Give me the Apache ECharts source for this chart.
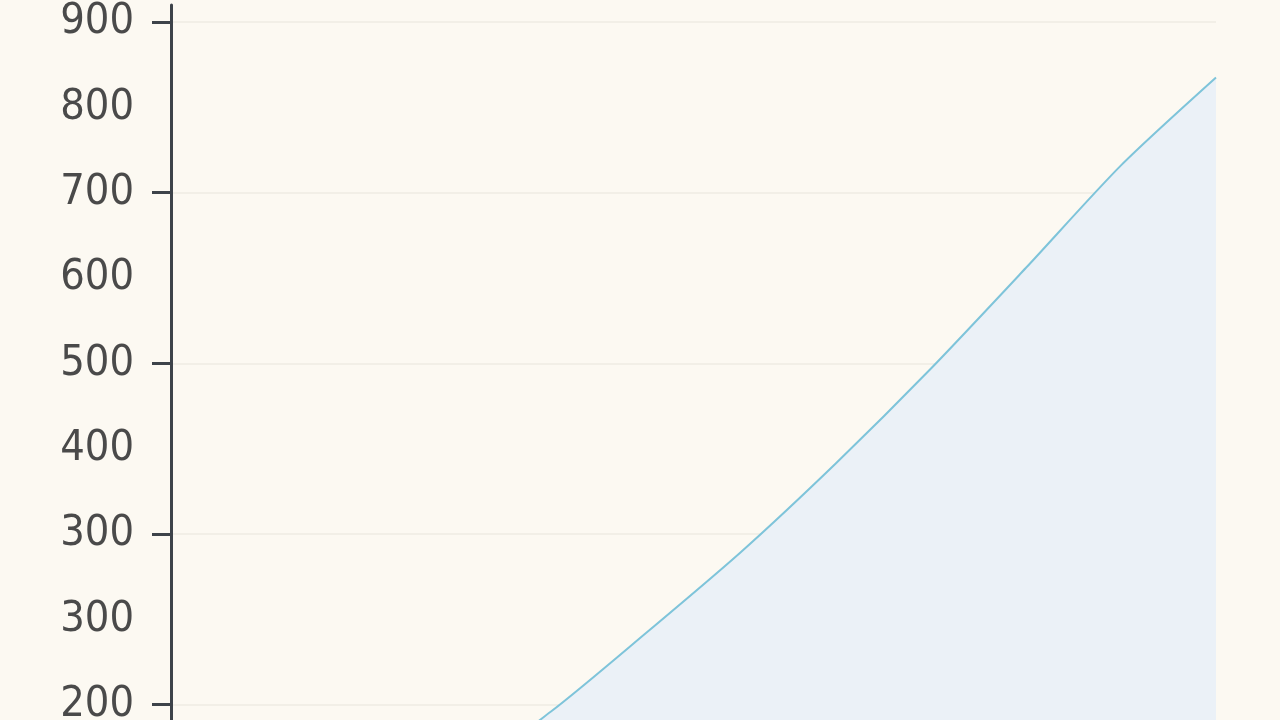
<!DOCTYPE html>
<html>
<head>
    <meta charset="utf-8">
    <title>area line</title>
    <style>
        html, body {
            margin: 0;
            padding: 0;
            background-color: #fcf9f2;
        }
        #chart {
            width: 1280px;
            height: 720px;
        }
    </style>
</head>
<body>
    <div id="chart"></div>
    <script src="https://cdn.jsdelivr.net/npm/echarts@6/dist/echarts.min.js"></script>
    <script>
        // x positions (axis hidden in the crop)
        var xCategories = ['1', '2', '3', '4', '5', '6', '7', '8', '9', '10', '11', '12'];
        // series values
        var seriesValues = [0, 0, 0, 15, 92, 184, 279, 383, 494, 612, 732, 835];
        // tick positions and the label text printed at each one (as shown)
        var yLabelValues = [100, 200, 300, 400, 500, 600, 700, 800, 900];
        var yLabelTexts = ['200', '300', '300', '400', '500', '600', '700', '800', '900'];
        var yTickValues = [100, 300, 500, 700, 900];

        var chart = echarts.init(document.getElementById('chart'));

        var option = {
            backgroundColor: '#fcf9f2',
            animation: false,
            grid: {
                left: 171,
                top: 5,
                width: 1045,
                height: 785,
                outerBoundsMode: 'none',
                containLabel: false
            },
            xAxis: {
                type: 'category',
                data: xCategories,
                boundaryGap: false,
                show: false
            },
            yAxis: {
                type: 'value',
                min: 0,
                max: 920,
                axisLine: {
                    show: true,
                    lineStyle: { color: '#3d434a', width: 3 }
                },
                axisTick: {
                    show: true,
                    length: 19,
                    customValues: yTickValues,
                    lineStyle: { color: '#3d434a', width: 3 }
                },
                axisLabel: {
                    customValues: yLabelValues,
                    margin: 37,
                    color: '#4a4a4a',
                    fontSize: 43,
                    fontFamily: '"Liberation Sans Narrow", "DejaVu Sans Condensed", sans-serif',
                    formatter: function (val) {
                        var i = yLabelValues.indexOf(val);
                        return i >= 0 ? yLabelTexts[i] : '';
                    }
                },
                splitLine: {
                    show: true,
                    lineStyle: { color: '#f2efe7', width: 2 }
                }
            },
            series: [{
                type: 'line',
                data: seriesValues,
                smooth: 0.25,
                symbol: 'none',
                lineStyle: { color: '#7ec4da', width: 2 },
                areaStyle: { color: '#ebf1f7', opacity: 1 }
            }]
        };

        chart.setOption(option);
        window.addEventListener('resize', function () {
            chart.resize();
        });
    </script>
</body>
</html>
